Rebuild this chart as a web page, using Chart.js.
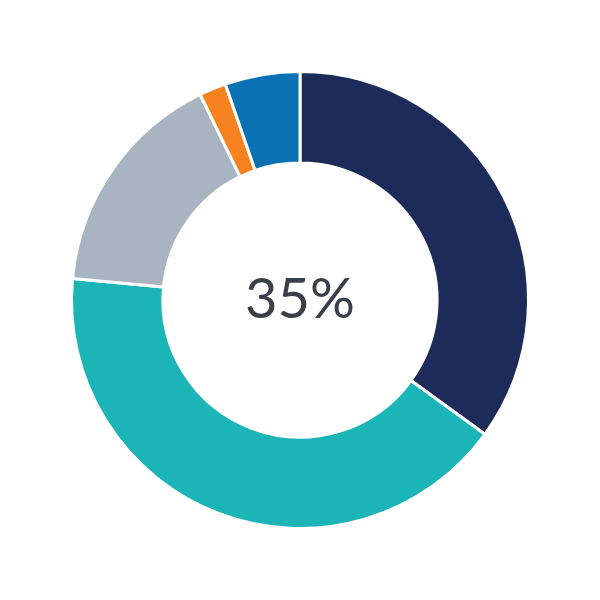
<!DOCTYPE html>
<html>
<head>
<meta charset="utf-8">
<script src="https://cdn.jsdelivr.net/npm/chart.js@4"></script>
<style>
  html, body { margin: 0; padding: 0; background: #fff; }
  #wrap { width: 600px; height: 600px; }
</style>
</head>
<body>
<div id="wrap"><canvas id="donut"></canvas></div>
<script>
// slice data, clockwise from 12 o'clock
const labels = ["A", "B", "C", "D", "E"];
const values = [35, 41.5, 16.3, 1.9, 5.3];
const colors = ["#1c2b5a", "#1cb5b7", "#a9b4c3", "#f5821f", "#0a71b4"];

// write the first share in the hole
const centerText = {
  id: "centerText",
  afterDraw(chart) {
    const { ctx, chartArea } = chart;
    const x = (chartArea.left + chartArea.right) / 2;
    const y = (chartArea.top + chartArea.bottom) / 2;
    ctx.save();
    ctx.font = "400 56px Lato, 'Open Sans', sans-serif";
    ctx.fillStyle = "#3b4048";
    ctx.textAlign = "center";
    ctx.textBaseline = "middle";
    ctx.fillText(values[0] + "%", x, y);
    ctx.restore();
  }
};

new Chart(document.getElementById("donut"), {
  type: "doughnut",
  data: {
    labels: labels,
    datasets: [{
      data: values,
      backgroundColor: colors,
      borderColor: "#ffffff",
      borderWidth: 3
    }]
  },
  options: {
    responsive: true,
    maintainAspectRatio: false,
    animation: false,
    cutout: "60%",
    layout: { padding: 70 },
    plugins: {
      legend: { display: false },
      tooltip: { enabled: false }
    }
  },
  plugins: [centerText]
});
</script>
</body>
</html>
